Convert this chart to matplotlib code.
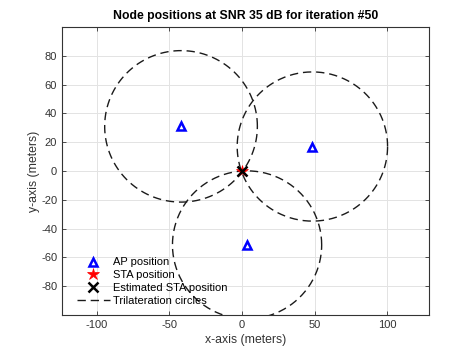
import matplotlib
matplotlib.use("Agg")
import matplotlib.pyplot as plt
import numpy as np

plt.rcParams['font.family'] = ['Liberation Sans', 'DejaVu Sans']
plt.rcParams['axes.unicode_minus'] = False

# AP positions (meters)
ap_x = [-42.0, 48.5, 3.5]
ap_y = [31.0, 17.0, -51.3]
# estimated distances (circle radii)
radii = [52.6, 51.8, 51.4]
# true and estimated STA position
sta_x, sta_y = [0.0], [0.0]
est_x, est_y = [-0.3], [0.2]

title = "Node positions at SNR 35 dB for iteration #50"
xticks = [-100, -50, 0, 50, 100]
yticks = [-80, -60, -40, -20, 0, 20, 40, 60, 80]

fig = plt.figure(figsize=(4.74, 3.55), dpi=100)
ax = fig.add_axes([62 / 474, 1 - 315 / 355, (428.5 - 62) / 474, (315 - 27) / 355])

tick_col = '#333333'
t = np.linspace(0, 2 * np.pi, 400)
circ = None
for cx, cy, r in zip(ap_x, ap_y, radii):
    circ, = ax.plot(cx + r * np.cos(t), cy + r * np.sin(t), color='#1a1a1a', lw=1.0,
                    dashes=(6, 3.5), zorder=2)

ap, = ax.plot(ap_x, ap_y, linestyle='None', marker='^', markersize=6, markerfacecolor='none',
              markeredgecolor='#0000ff', markeredgewidth=1.8, zorder=3)
sta, = ax.plot(sta_x, sta_y, linestyle='None', marker='*', markersize=9, color='#ff0000',
               markeredgewidth=0.5, zorder=3)
est, = ax.plot(est_x, est_y, linestyle='None', marker='x', markersize=7, color='black',
               markeredgewidth=1.8, zorder=4)

ax.set_xlim(-124, 128.5)
ax.set_ylim(-100, 100)
ax.set_xticks(xticks)
ax.set_yticks(yticks)
ax.grid(True, color='#e3e3e3', lw=0.7)
ax.set_axisbelow(True)
ax.tick_params(direction='in', top=True, right=True, length=3, width=0.6,
               labelsize=8, colors=tick_col, labelcolor=tick_col)
for s in ax.spines.values():
    s.set_color(tick_col)
    s.set_linewidth(0.8)

ax.set_title(title, fontsize=8.8, fontweight='bold', color='black', pad=6)
ax.set_xlabel("x-axis (meters)", fontsize=8.8, color=tick_col, labelpad=3)
ax.set_ylabel("y-axis (meters)", fontsize=8.8, color=tick_col, labelpad=1)

ax.legend([ap, sta, est, circ],
          ["AP position", "STA position", "Estimated STA position", "Trilateration circles"],
          loc='lower left', bbox_to_anchor=(0.016, 0.0), frameon=False, fontsize=8,
          handlelength=3.0, handletextpad=0.25, labelspacing=0.26, borderaxespad=0.3,
          borderpad=0.5)

fig.savefig("out.png", dpi=100)
